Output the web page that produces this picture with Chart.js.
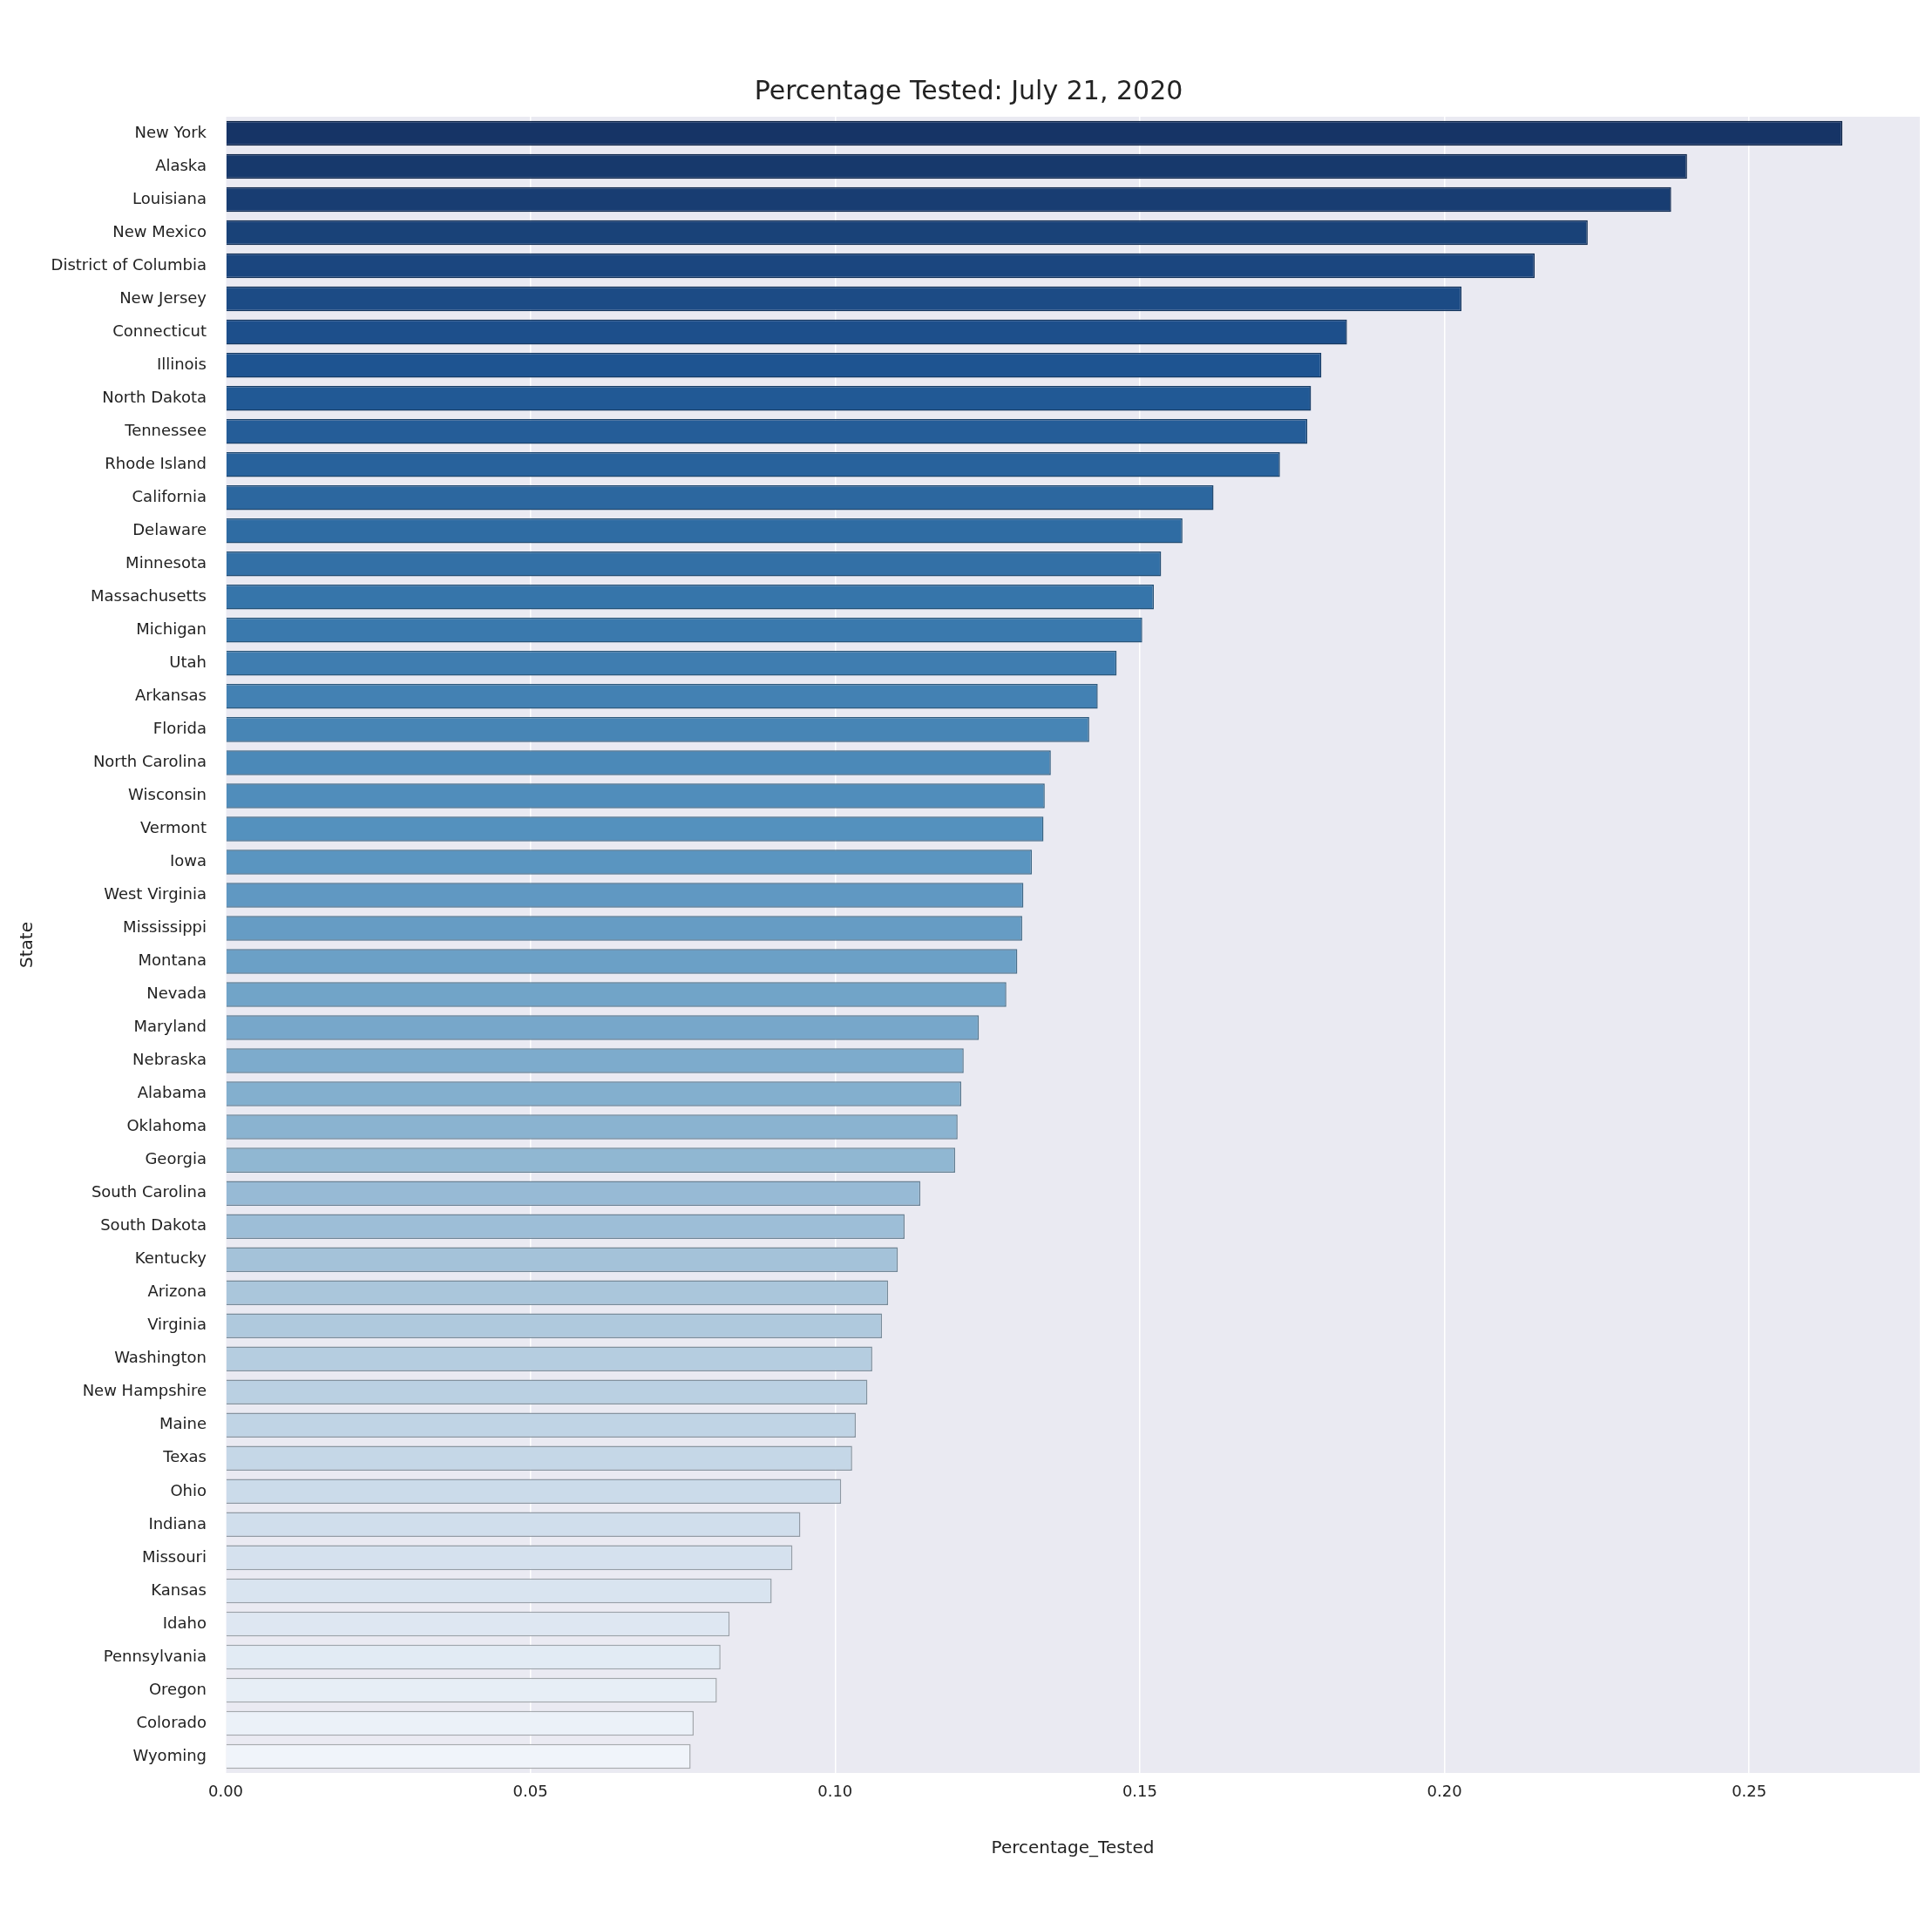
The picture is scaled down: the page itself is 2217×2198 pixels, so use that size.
<!DOCTYPE html>
<html><head><meta charset="utf-8">
<script src="https://cdn.jsdelivr.net/npm/chart.js@4/dist/chart.umd.min.js"></script>
<style>body{margin:0;background:#fff}</style>
</head><body>
<canvas id="c" width="2217" height="2198"></canvas>
<script>
const states = ["New York","Alaska","Louisiana","New Mexico","District of Columbia","New Jersey","Connecticut","Illinois","North Dakota","Tennessee","Rhode Island","California","Delaware","Minnesota","Massachusetts","Michigan","Utah","Arkansas","Florida","North Carolina","Wisconsin","Vermont","Iowa","West Virginia","Mississippi","Montana","Nevada","Maryland","Nebraska","Alabama","Oklahoma","Georgia","South Carolina","South Dakota","Kentucky","Arizona","Virginia","Washington","New Hampshire","Maine","Texas","Ohio","Indiana","Missouri","Kansas","Idaho","Pennsylvania","Oregon","Colorado","Wyoming"];
const tested = [0.2653,0.2398,0.2372,0.2235,0.2148,0.2028,0.1840,0.1798,0.1781,0.1775,0.1730,0.1621,0.1570,0.1535,0.1523,0.1504,0.1462,0.1431,0.1417,0.1354,0.1344,0.1342,0.1323,0.1309,0.1307,0.1299,0.1281,0.1236,0.1211,0.1207,0.1201,0.1197,0.1140,0.1114,0.1103,0.1087,0.1077,0.1061,0.1053,0.1034,0.1028,0.1010,0.0943,0.0930,0.0896,0.0827,0.0812,0.0806,0.0768,0.0763];
const xTicks = [0,0.05,0.10,0.15,0.20,0.25];

// Blues-like stops, dark -> light
const stops = [[22,52,102],[30,84,145],[54,117,170],[84,145,190],[125,171,204],[170,198,219],[208,222,236],[240,244,250]];
function blues(t){
  let p=t*(stops.length-1), i=Math.min(Math.floor(p),stops.length-2), f=p-i;
  let c=stops[i].map((v,k)=>Math.round(v+(stops[i+1][k]-v)*f));
  return c;
}
let fill=[],edge=[];
states.forEach((s,i)=>{
  let c=blues(i/(states.length-1));
  fill.push(`rgb(${c})`);
  edge.push(`rgb(${c.map(v=>Math.round(v*0.7))})`);
});

const bg={id:'bg',beforeDraw(ch){const a=ch.chartArea,x=ch.ctx;x.save();x.fillStyle='#eaeaf2';x.fillRect(a.left,a.top,a.right-a.left,a.bottom-a.top);x.restore();}};

new Chart(document.getElementById('c'),{
  type:'bar',
  data:{labels:states,datasets:[{data:tested,backgroundColor:fill,borderColor:edge,borderWidth:1.5,categoryPercentage:1,barPercentage:0.75}]},
  options:{
    indexAxis:'y',responsive:false,animation:false,
    layout:{padding:{left:20,right:14,top:88,bottom:60}},
    plugins:{legend:{display:false},tooltip:{enabled:false},
      title:{display:true,text:'Percentage Tested: July 21, 2020',color:'#222',font:{family:'DejaVu Sans',size:30,weight:'normal'},padding:{top:0,bottom:10}}},
    scales:{
      x:{min:0,max:0.278,
        afterBuildTicks(s){s.ticks=xTicks.map(v=>({value:v}));},
        afterFit(s){s.height=103;},
        grid:{color:'#ffffff',lineWidth:1.5,drawTicks:false},border:{display:false},
        ticks:{color:'#222',padding:12,font:{family:'DejaVu Sans',size:18},callback:v=>v.toFixed(2)},
        title:{display:true,text:'Percentage_Tested',color:'#222',font:{family:'DejaVu Sans',size:20},padding:{top:4}}},
      y:{afterFit(s){s.width=239;},
        grid:{display:false},border:{display:false},
        ticks:{color:'#222',padding:14,autoSkip:false,font:{family:'DejaVu Sans',size:18}},
        title:{display:true,text:'State',color:'#222',font:{family:'DejaVu Sans',size:20},padding:0}}
    }
  },
  plugins:[bg]
});
</script>
</body></html>
